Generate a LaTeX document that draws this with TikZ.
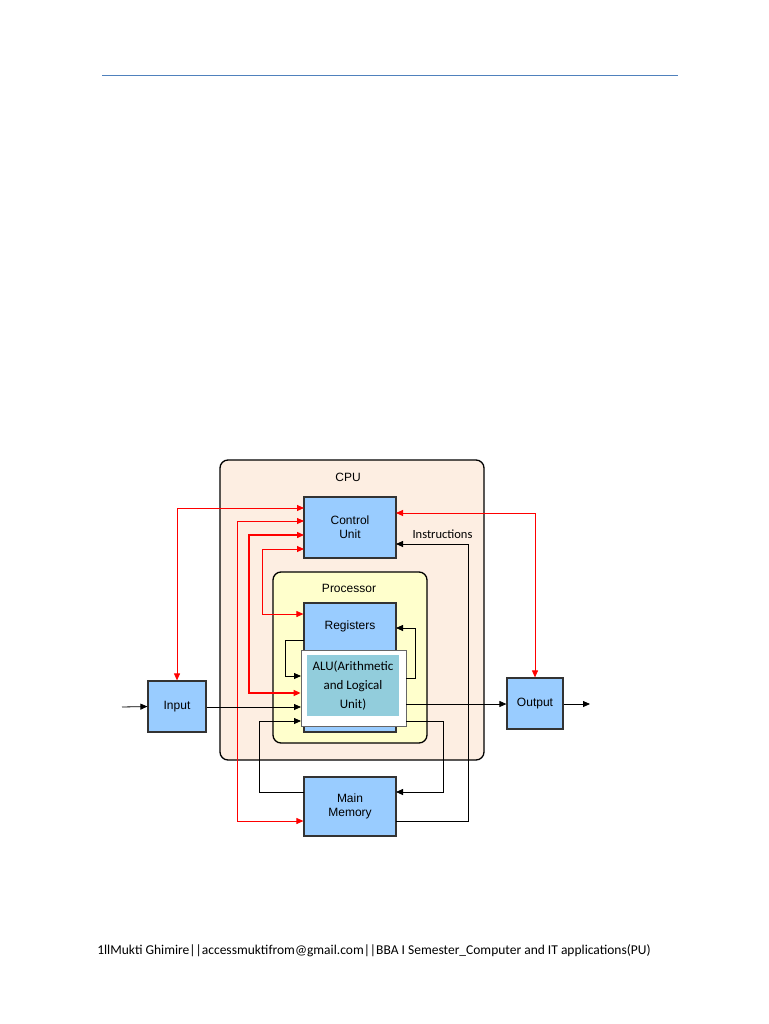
\documentclass[tikz,border=0pt]{standalone}
\usepackage{fontspec}
\setmainfont{Liberation Sans}
\newfontfamily\carl{Carlito}
\usetikzlibrary{arrows.meta}
\definecolor{cpufill}{RGB}{253,238,226}
\definecolor{procfill}{RGB}{255,255,204}
\definecolor{boxblue}{RGB}{153,204,255}
\definecolor{alut}{RGB}{146,205,220}
\definecolor{hdr}{RGB}{79,129,189}
\definecolor{ared}{RGB}{255,0,0}
\begin{document}
\begin{tikzpicture}[x=1pt,y=-1pt,
  blk/.style={draw=black!80,line width=1.2pt,fill=boxblue,inner sep=0pt,font=\fontsize{12}{14}\selectfont,align=center},
  rl/.style={draw=ared,line width=0.9pt,{Triangle[length=7pt,width=6pt]}-{Triangle[length=7pt,width=6pt]}},
  rlt/.style={rl,line width=1.4pt},
  bl/.style={draw=black,line width=0.8pt,-{Triangle[length=7pt,width=6pt]}}]
\useasboundingbox (0,0) rectangle (768,1024);
\fill[white] (0,0) rectangle (768,1024);
\draw[hdr,line width=0.8pt] (102,75) -- (678,75);
% containers
\draw[fill=cpufill,line width=1.3pt,rounded corners=8pt] (220,460) rectangle (484,760);
\node[font=\fontsize{12}{14}\selectfont] (cpul) at (348,477) {CPU};
\draw[fill=procfill,line width=1.3pt,rounded corners=8pt] (273,572) rectangle (427,743);
\node[font=\fontsize{12}{14}\selectfont] (procl) at (349,588) {Processor};
% boxes
\node[blk,minimum width=92pt,minimum height=61pt] (cu) at (350,527.5) {Control\\Unit};
\node[blk,minimum width=92pt,minimum height=129pt] (reg) at (350,667.5) {};
\node[font=\fontsize{12}{14}\selectfont] (regl) at (350,626) {Registers};
\node[draw=black!60,fill=white,line width=0.8pt,minimum width=105pt,minimum height=76pt,inner sep=0pt] (alu) at (353.5,688) {};
\node[fill=alut,minimum width=92pt,minimum height=61pt,inner sep=0pt,align=center,font=\carl\fontsize{13}{19}\selectfont] (alut) at (353,685.5) {ALU(Arithmetic\\and Logical\\Unit)};
\node[blk,minimum width=58pt,minimum height=51pt] (in) at (177,706.5) {Input};
\node[blk,minimum width=56pt,minimum height=51pt] (out) at (535,703.5) {Output};
\node[blk,minimum width=92pt,minimum height=59pt] (mm) at (350,806.5) {Main\\Memory};
\coordinate (ins) at (122,707);
\coordinate (outs) at (590,704);
% red
\draw[rl] (in.north) |- (304,508);
\draw[rl] (304,521) -| (237,821) -- (mm.west |- 0,821);
\draw[rlt] (304,535) -| (249,693) -- (alu.west |- 0,693);
\draw[rl] (304,549) -| (262,614) -- (reg.west |- 0,614);
\draw[rl] (396,513) -| (out.north);
% black
\draw[bl] (ins) -- (in.west);
\draw[bl] (in.east |- 0,707) -- (301,707);
\draw[bl] (406,704) -- (out.west |- 0,704);
\draw[bl] (out.east |- 0,704) -- (outs);
\draw[bl] (304,640) -| (285,676) -- (301,676);
\draw[bl] (406,678) -| (415,628) -- (396,628);
\draw[bl] (304,792) -| (259,721) -- (301,721);
\draw[bl] (406,721) -| (443,792) -- (396,792);
\draw[bl] (396,821) -| (468,544) -- (396,544);
\node[font=\carl\fontsize{12.5}{14}\selectfont,anchor=west] (insl) at (409,534) {Instructions};
\node[font=\carl\fontsize{13.5}{16}\selectfont] (foot) at (374,951) {1llMukti Ghimire||accessmuktifrom@gmail.com||BBA I Semester\_Computer and IT applications(PU)};
\end{tikzpicture}
\end{document}
